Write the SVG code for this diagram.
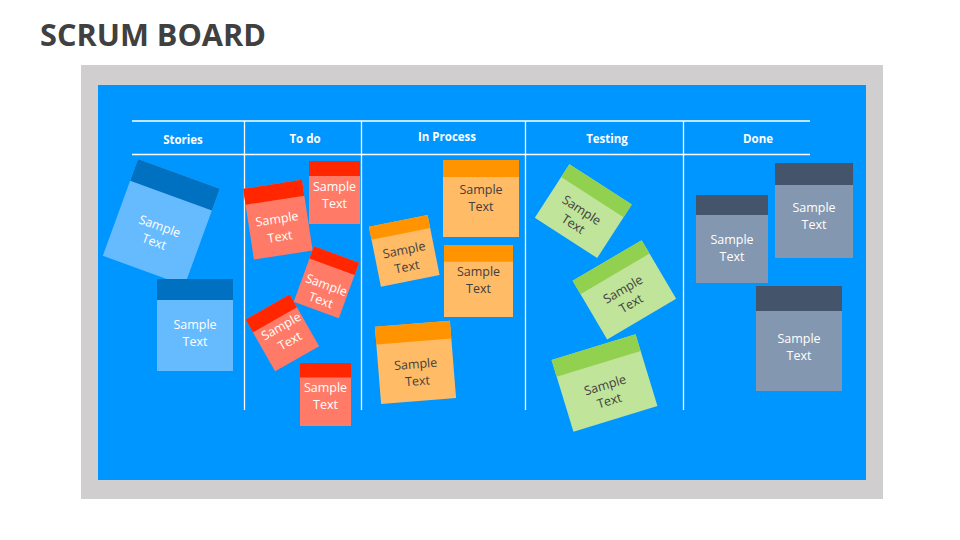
<svg xmlns="http://www.w3.org/2000/svg" width="960" height="540" viewBox="0 0 960 540">
<style>
.t{font-family:"Open Sans","Liberation Sans",sans-serif;font-size:12.5px;text-anchor:middle}
.w{fill:#FFFFFF}.d{fill:#404040}
.h{font-family:"Open Sans","Liberation Sans",sans-serif;font-size:11.5px;font-weight:bold;fill:#FFFFFF;text-anchor:middle}
.ln{stroke:#FFFFFF;stroke-width:1.3;fill:none}
.sb{fill:#66BBFF}.sh{fill:#0070C0}
.tb{fill:#FF7B67}.th{fill:#FF2600}
.pb{fill:#FFBB66}.ph{fill:#FF9300}
.gb{fill:#C0E49A}.gh{fill:#92D050}
.db{fill:#8497B0}.dh{fill:#44546A}
</style>
<rect width="960" height="540" fill="#FFFFFF"/>
<text x="40" y="45.5" font-family="'Open Sans','Liberation Sans',sans-serif" font-size="31" font-weight="bold" fill="#404040" textLength="226" lengthAdjust="spacingAndGlyphs">SCRUM BOARD</text>
<g id="board">
<rect x="81" y="65" width="802" height="434" fill="#D0CECE"/>
<rect x="98" y="85" width="768" height="395" fill="#0096FF"/>
</g>
<g id="grid">
<line class="ln" x1="132" y1="121" x2="810" y2="121"/>
<line class="ln" x1="132" y1="154.5" x2="810" y2="154.5"/>
<line class="ln" x1="244.5" y1="121" x2="244.5" y2="410"/>
<line class="ln" x1="361.5" y1="121" x2="361.5" y2="410"/>
<line class="ln" x1="525.5" y1="121" x2="525.5" y2="410"/>
<line class="ln" x1="683.5" y1="121" x2="683.5" y2="410"/>
<text class="h" x="183" y="143.5">Stories</text>
<text class="h" x="305" y="142.5">To do</text>
<text class="h" x="447" y="140.5">In Process</text>
<text class="h" x="607" y="142.5">Testing</text>
<text class="h" x="758" y="142.5">Done</text>
</g>
<!-- Stories -->
<g id="story1" transform="translate(161.3,222.3) rotate(20)">
<rect class="sb" x="-43.5" y="-51.5" width="87" height="103"/>
<rect class="sh" x="-43.5" y="-51.5" width="87" height="23"/>
<text class="t w" x="0" y="8.5">Sample</text><text class="t w" x="0" y="25">Text</text>
</g>
<g id="story2">
<rect class="sb" x="157" y="279" width="76" height="92"/>
<rect class="sh" x="157" y="279" width="76" height="21"/>
<text class="t w" x="195" y="329">Sample</text><text class="t w" x="195" y="346">Text</text>
</g>
<!-- To do -->
<g id="todo1" transform="translate(277.9,219.7) rotate(-8.7)">
<rect class="tb" x="-29.7" y="-35.75" width="59.4" height="71.5"/>
<rect class="th" x="-29.7" y="-35.75" width="59.4" height="16"/>
<text class="t w" x="-0.8" y="3.5">Sample</text><text class="t w" x="-0.5" y="21.5">Text</text>
</g>
<g id="todo2">
<rect class="tb" x="309" y="161" width="51" height="63"/>
<rect class="th" x="309" y="161" width="51" height="15"/>
<text class="t w" x="334.5" y="191">Sample</text><text class="t w" x="334.5" y="207.5">Text</text>
</g>
<g id="todo3" transform="translate(326.4,282.2) rotate(20)">
<rect class="tb" x="-24" y="-29.5" width="48" height="59"/>
<rect class="th" x="-24" y="-29.5" width="48" height="13"/>
<text class="t w" x="1" y="7">Sample</text><text class="t w" x="1" y="23">Text</text>
</g>
<g id="todo4" transform="translate(282.4,332.9) rotate(-29.6)">
<rect class="tb" x="-25.3" y="-29.8" width="50.6" height="59.6"/>
<rect class="th" x="-25.3" y="-29.8" width="50.6" height="14.7"/>
<text class="t w" x="2.2" y="-2">Sample</text><text class="t w" x="2.5" y="15">Text</text>
</g>
<g id="todo5">
<rect class="tb" x="300" y="363" width="51" height="63"/>
<rect class="th" x="300" y="363" width="51" height="14.5"/>
<text class="t w" x="325.5" y="392.3">Sample</text><text class="t w" x="325.5" y="409">Text</text>
</g>
<!-- In Process -->
<g id="proc1">
<rect class="pb" x="443" y="160" width="76" height="77"/>
<rect class="ph" x="443" y="160" width="76" height="17"/>
<text class="t d" x="481" y="194.3">Sample</text><text class="t d" x="481" y="211">Text</text>
</g>
<g id="proc2" transform="translate(404.25,250.85) rotate(-11.3)">
<rect class="pb" x="-29.9" y="-30.6" width="59.8" height="61.2"/>
<rect class="ph" x="-29.9" y="-30.6" width="59.8" height="13.3"/>
<text class="t d" x="0" y="3.4">Sample</text><text class="t d" x="-0.5" y="20.6">Text</text>
</g>
<g id="proc3">
<rect class="pb" x="444" y="245" width="69" height="72"/>
<rect class="ph" x="444" y="245" width="69" height="16.7"/>
<text class="t d" x="478.5" y="276">Sample</text><text class="t d" x="478.5" y="292.7">Text</text>
</g>
<g id="proc4" transform="translate(415.5,362.4) rotate(-4.6)">
<rect class="pb" x="-37.6" y="-38.75" width="75.2" height="77.5"/>
<rect class="ph" x="-37.6" y="-38.75" width="75.2" height="17.7"/>
<text class="t d" x="0" y="6">Sample</text><text class="t d" x="0.5" y="23">Text</text>
</g>
<!-- Testing -->
<g id="test1" transform="translate(583.3,211.1) rotate(32.9)">
<rect class="gb" x="-37.15" y="-31.85" width="74.3" height="63.7"/>
<rect class="gh" x="-37.15" y="-31.85" width="74.3" height="15.2"/>
<text class="t d" x="-1.9" y="4.4">Sample</text><text class="t d" x="-1.4" y="20.7">Text</text>
</g>
<g id="test2" transform="translate(624.4,289.8) rotate(-30.5)">
<rect class="gb" x="-40.05" y="-34" width="80.1" height="68"/>
<rect class="gh" x="-40.05" y="-34" width="80.1" height="15.5"/>
<text class="t d" x="-1" y="3.2">Sample</text><text class="t d" x="-1.2" y="19.5">Text</text>
</g>
<g id="test3" transform="translate(604.5,383) rotate(-17)">
<rect class="gb" x="-43.9" y="-37.45" width="87.8" height="74.9"/>
<rect class="gh" x="-43.9" y="-37.45" width="87.8" height="17.4"/>
<text class="t d" x="0" y="6.5">Sample</text><text class="t d" x="-0.6" y="22.7">Text</text>
</g>
<!-- Done -->
<g id="done1">
<rect class="db" x="696" y="195" width="72" height="88"/>
<rect class="dh" x="696" y="195" width="72" height="20"/>
<text class="t w" x="732" y="244.3">Sample</text><text class="t w" x="732" y="261">Text</text>
</g>
<g id="done2">
<rect class="db" x="775" y="163" width="78" height="95"/>
<rect class="dh" x="775" y="163" width="78" height="22"/>
<text class="t w" x="814" y="211.7">Sample</text><text class="t w" x="814" y="229">Text</text>
</g>
<g id="done3">
<rect class="db" x="756" y="286" width="86" height="105"/>
<rect class="dh" x="756" y="286" width="86" height="25"/>
<text class="t w" x="799" y="343.3">Sample</text><text class="t w" x="799" y="360">Text</text>
</g>
</svg>
